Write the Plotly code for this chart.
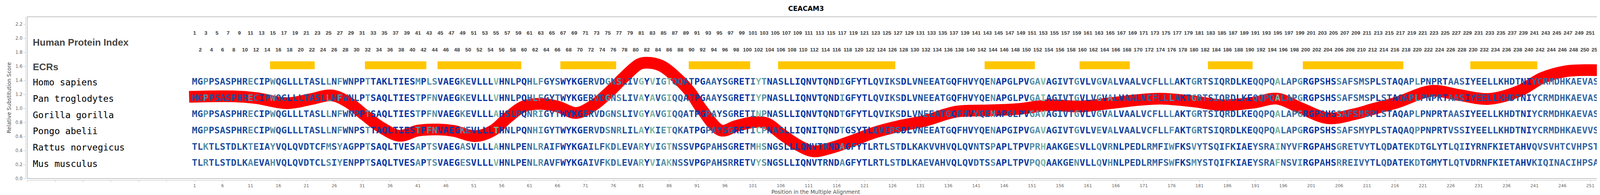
import plotly.graph_objects as go

# ---------------- data ----------------
species = ["Homo sapiens", "Pan troglodytes", "Gorilla gorilla",
           "Pongo abelii", "Rattus norvegicus", "Mus musculus"]

seq_homo = ("MGPPSASPHRECIPWQGLLLTASLLNFWNPPTTAKLTIESMP"
            "LSVAEGKEVLLLVHNLPQHLFGYSWYKGERVDGNSLIVGYVIG"
            "TQQATPGAAYSGRETIYTNASLLIQNVTQNDIGFYTLQVIKS"
            "DLVNEEATGQFHVYQENAPGLPVGAVAGIVTGVLVGVALVAA"
            "LVCFLLLAKTGRTSIQRDLKEQQPQALAPGRGPSHSSAFSMS"
            "PLSTAQAPLPNPRTAASIYEELLKHDTNIYCRMDHKAEVAS")
seq_pan = ("MGPPSASPHRECIPWQGLLLTASLLNFWNLPTSAQLTIESTP"
           "FNVAEGKEVLLLVHNLPQHLFGYTWYKGERVDGNSLIVAYAVG"
           "IQQATPGAAYSGRETIYPNASLLIQNVTQNDIGFYTLQVIKS"
           "DLVNEEATGQFHVYQENAPGLPVGAIAGIVTGVLVGVALVAA"
           "LVCFLLLAKTGRTSIQRDLKEQQPQALAPGRGPSHSSAFSMS"
           "PLSTAQAPLPNPRTAASIYEELLKHDTNIYCRMDHKAEVAS")
seq_gorilla = ("MGPPSASPHRECIPWQGLLLTASLLNFWNPPTSAQLTIESTP"
               "FNVAEGKEVLLLAHSLPQNRIGYTWYKGERVDGNSLIVGYAVG"
               "IQQATPGPAYSGRETINPNASLLIQNVTQNDTGFYTLQVIKS"
               "DLVNEEATGQFHVYQENAPGLPVGAVAGIVTGVLVGVALVAA"
               "LVCFLLLAKTGRTSIQRDLKEQQPQALAPGRGPSHSSAFSMS"
               "PLSTAQAPLPNPRTAASIYEELLKHDTNIYCRMDHKAEVAS")
seq_pongo = ("MGPPSASPHRECIPWQGLLLTASLLNFWNPSTTAQLTIESTP"
             "FNVAEGKEVLLLTHNLPQNHIGYTWYKGERVDSNRLILAYKIE"
             "TQKATPGPAYSGRETICPNASLLIQNITQNDTGSYTLQVIRS"
             "DLVNEEATGQFHVYQENAPGIPVGAVAGIVTGVLVEVALVAA"
             "LVCFLLFAKTGRTSIQRDLKEQQPQALAPGRGPSHSSAFSMY"
             "PLSTAQAQPPNPRTVSSIYEELLKHDTNIYCRMDHKAEVVS")
seq_rat = ("TLKTLSTDLKTEIAYVQLQVDTCFMSYAGPPTSAQLTVESAP"
           "TSVAEGASVLLLAHNLPENLRAIFWYKGAILFKDLEVARYVIG"
           "TNSSVPGPAHSGRETMHSNGSLLLQNVTRNDAGFYTLRTLST"
           "DLKAKVVHVQLQVNTSPAPLTPVPRHAAKGESVLLQVRNLPE"
           "DLRMFIWFKSVYTSQIFKIAEYSRAINYVFRGPAHSGRETVY"
           "TLQDATEKDTGLYTLQIIYRNFKIETAHVQVSVHTCVHPST")
seq_mouse = ("TLRTLSTDLKAEVAHVQLQVDTCLSIYENPPTSAQLTVESAP"
             "TSVAEGESVLLLVHNLPENLRAVFWYKGAIVFKDLEVARYVIA"
             "KNSSVPGPAHSRRETVYSNGSLLIQNVTRNDAGFYTLRTLST"
             "DLKAEVAHVQLQVDTSSAPLTPVPQQAAKGENVLLQVHNLPE"
             "DLRMFSWFKSMYSTQIFKIAEYSRAFNSVIRGPAHSRREIVY"
             "TLQDATEKDTGMYTLQTVDRNFKIETAHVKIQINACIHPSA")
sequences = [seq_homo, seq_pan, seq_gorilla, seq_pongo, seq_rat, seq_mouse]

# per-column conservation class (0 = most conserved ... 4 = least)
conservation = ("113111111132013110111111313111030000000030"
                "3300003200004011102331120000112132311240413"
                "422110022112000243011000000010030100011122"
                "001121112011021130011003340111130013031011"
                "112212310132212121010222242223000100322222"
                "10210112311110222011111111100222222222222")

ecr_start = [15, 32, 45, 67, 90, 106, 143, 160, 183, 200, 230]
ecr_end = [22, 42, 59, 76, 100, 126, 151, 168, 190, 217, 241]

score_pos = [0, 8, 12, 17.5, 21.7, 25.6, 28.6, 31.4, 34.2, 37.7,
             41, 44.7, 47.4, 51.3, 54.4, 57.1, 59.9, 62.9, 66, 69.3,
             72.3, 75.1, 77.9, 80.6, 82, 84.5, 87, 89.7, 91.9, 95.3,
             98, 101.3, 103.5, 106.2, 109, 111.8, 114.5, 118.7, 122.8, 127,
             131.8, 137.4, 142.9, 148.4, 154, 159.5, 165, 170, 174.1, 179.7,
             185.2, 190.7, 194.9, 199, 204, 208.7, 212, 216.3, 222.6, 227.3,
             232.8, 238.3, 242.4, 246.5, 250.7, 254]
score_val = [1.165, 1.172, 1.148, 1.074, 1.13, 1.185, 1.083, 0.907, 0.74, 0.61,
             0.685, 0.70, 0.68, 0.605, 0.685, 0.87, 1.028, 1.065, 1.028, 0.935,
             1.038, 1.222, 1.444, 1.63, 1.652, 1.61, 1.463, 1.24, 0.98, 0.685,
             0.75, 0.806, 0.787, 0.63, 0.481, 0.389, 0.426, 0.537, 0.657, 0.745,
             0.824, 0.954, 0.972, 0.991, 1.046, 1.028, 1.074, 1.12, 1.139, 1.102,
             1.046, 1.083, 1.139, 1.009, 0.861, 0.917, 0.99, 1.083, 1.25, 1.194,
             1.135, 1.25, 1.435, 1.528, 1.546, 1.54]

x_tick_vals = list(range(-29, 252, 5))
x_tick_text = [str(v) if v >= 1 else "" for v in x_tick_vals]
y_tick_vals = [0.0, 0.2, 0.4, 0.6, 0.8, 1.0, 1.2, 1.4, 1.6, 1.8, 2.0, 2.2]

# ---------------- styles ----------------
palette = ["#0a37a3", "#1d4e9e", "#3667a5", "#5690aa", "#80b8a2"]
row_top, row_step = 1.371, 0.2315
label_x = -28.1
mono = "DejaVu Sans Mono"
sans = "DejaVu Sans"
arial = "Liberation Sans"

fig = go.Figure()

# relative substitution score line
fig.add_trace(go.Scatter(
    x=score_pos, y=score_val, mode="lines",
    line=dict(color="#ff0000", width=30, shape="spline", smoothing=1.0),
    hoverinfo="skip"))

# ECR bars
fig.add_trace(go.Bar(
    x=[(s + e) / 2 for s, e in zip(ecr_start, ecr_end)],
    y=[0.112] * len(ecr_start), base=1.559,
    width=[e - s + 1 for s, e in zip(ecr_start, ecr_end)],
    marker=dict(color="#ffc600", line=dict(width=0)),
    hoverinfo="skip"))

# sequences
letter_colors = [palette[int(c)] for c in conservation]
for i, (name, seq) in enumerate(zip(species, sequences)):
    y = row_top - i * row_step
    fig.add_trace(go.Scatter(
        x=list(range(1, len(seq) + 1)), y=[y] * len(seq),
        mode="text", text=list(seq), textposition="middle center",
        textfont=dict(family=mono, size=23.5, color=letter_colors[:len(seq)],
                      weight="bold"),
        hoverinfo="skip", cliponaxis=False))
    fig.add_annotation(x=label_x, y=y, xref="x", yref="y", text=name,
                       showarrow=False, xanchor="left", yanchor="middle",
                       font=dict(family=mono, size=23, color="#000000"))

# human protein index numbers
index_positions = list(range(1, len(seq_homo) + 1))
odd = [p for p in index_positions if p % 2 == 1]
even = [p for p in index_positions if p % 2 == 0]
for vals, yy in ((odd, 2.067), (even, 1.828)):
    fig.add_trace(go.Scatter(
        x=vals, y=[yy] * len(vals), mode="text",
        text=[str(v) for v in vals], textposition="middle center",
        textfont=dict(family=arial, size=13.5, color="#3c3c3c", weight="bold"),
        hoverinfo="skip", cliponaxis=False))

fig.add_annotation(x=label_x, y=1.944, xref="x", yref="y",
                   text="Human Protein Index", showarrow=False,
                   xanchor="left", yanchor="middle",
                   font=dict(family=arial, size=24.5,
                             color="#444444", weight="bold"))
fig.add_annotation(x=label_x, y=1.594, xref="x", yref="y",
                   text="ECRs", showarrow=False,
                   xanchor="left", yanchor="middle",
                   font=dict(family=arial, size=24.5,
                             color="#444444", weight="bold"))

fig.update_layout(
    width=4111, height=500,
    margin=dict(l=57, r=12, t=35, b=46, pad=0),
    paper_bgcolor="white", plot_bgcolor="white",
    showlegend=False, hovermode=False,
    title=dict(text="CEACAM3", x=0.5, xref="container", xanchor="center",
               y=1 - 14 / 500, yref="container", yanchor="middle",
               font=dict(family=sans, size=17, color="#000000", weight="bold")),
    xaxis=dict(domain=[0.00114, 1], range=[-29, 253.5], anchor="free",
               position=0, showline=True, linecolor="#c0c0c0", linewidth=1,
               ticks="outside", ticklen=4, tickcolor="#c0c0c0",
               tickvals=x_tick_vals, ticktext=x_tick_text,
               showgrid=False, zeroline=False, automargin=False,
               tickfont=dict(family=sans, size=11, color="#666666"),
               title=dict(text="Position in the Multiple Alignment",
                          font=dict(family=sans, size=13.5, color="#4d4d4d"),
                          standoff=5)),
    yaxis=dict(domain=[0.00955, 1], range=[0, 2.3056], anchor="free",
               position=0, showline=True, linecolor="#c0c0c0", linewidth=1,
               ticks="outside", ticklen=5, tickcolor="#c0c0c0",
               tickvals=y_tick_vals, tickformat=".1f",
               showgrid=False, zeroline=False, automargin=False,
               tickfont=dict(family=sans, size=11.5, color="#666666"),
               title=dict(text="Relative Substitution Score",
                          font=dict(family=sans, size=13.5, color="#4d4d4d"),
                          standoff=6)),
    shapes=[dict(type="rect", xref="x domain", yref="y domain",
                 x0=0, x1=1, y0=0, y1=1,
                 line=dict(color="#888888", width=1),
                 fillcolor="rgba(0,0,0,0)", layer="above")],
)

fig.write_html("out.html")
